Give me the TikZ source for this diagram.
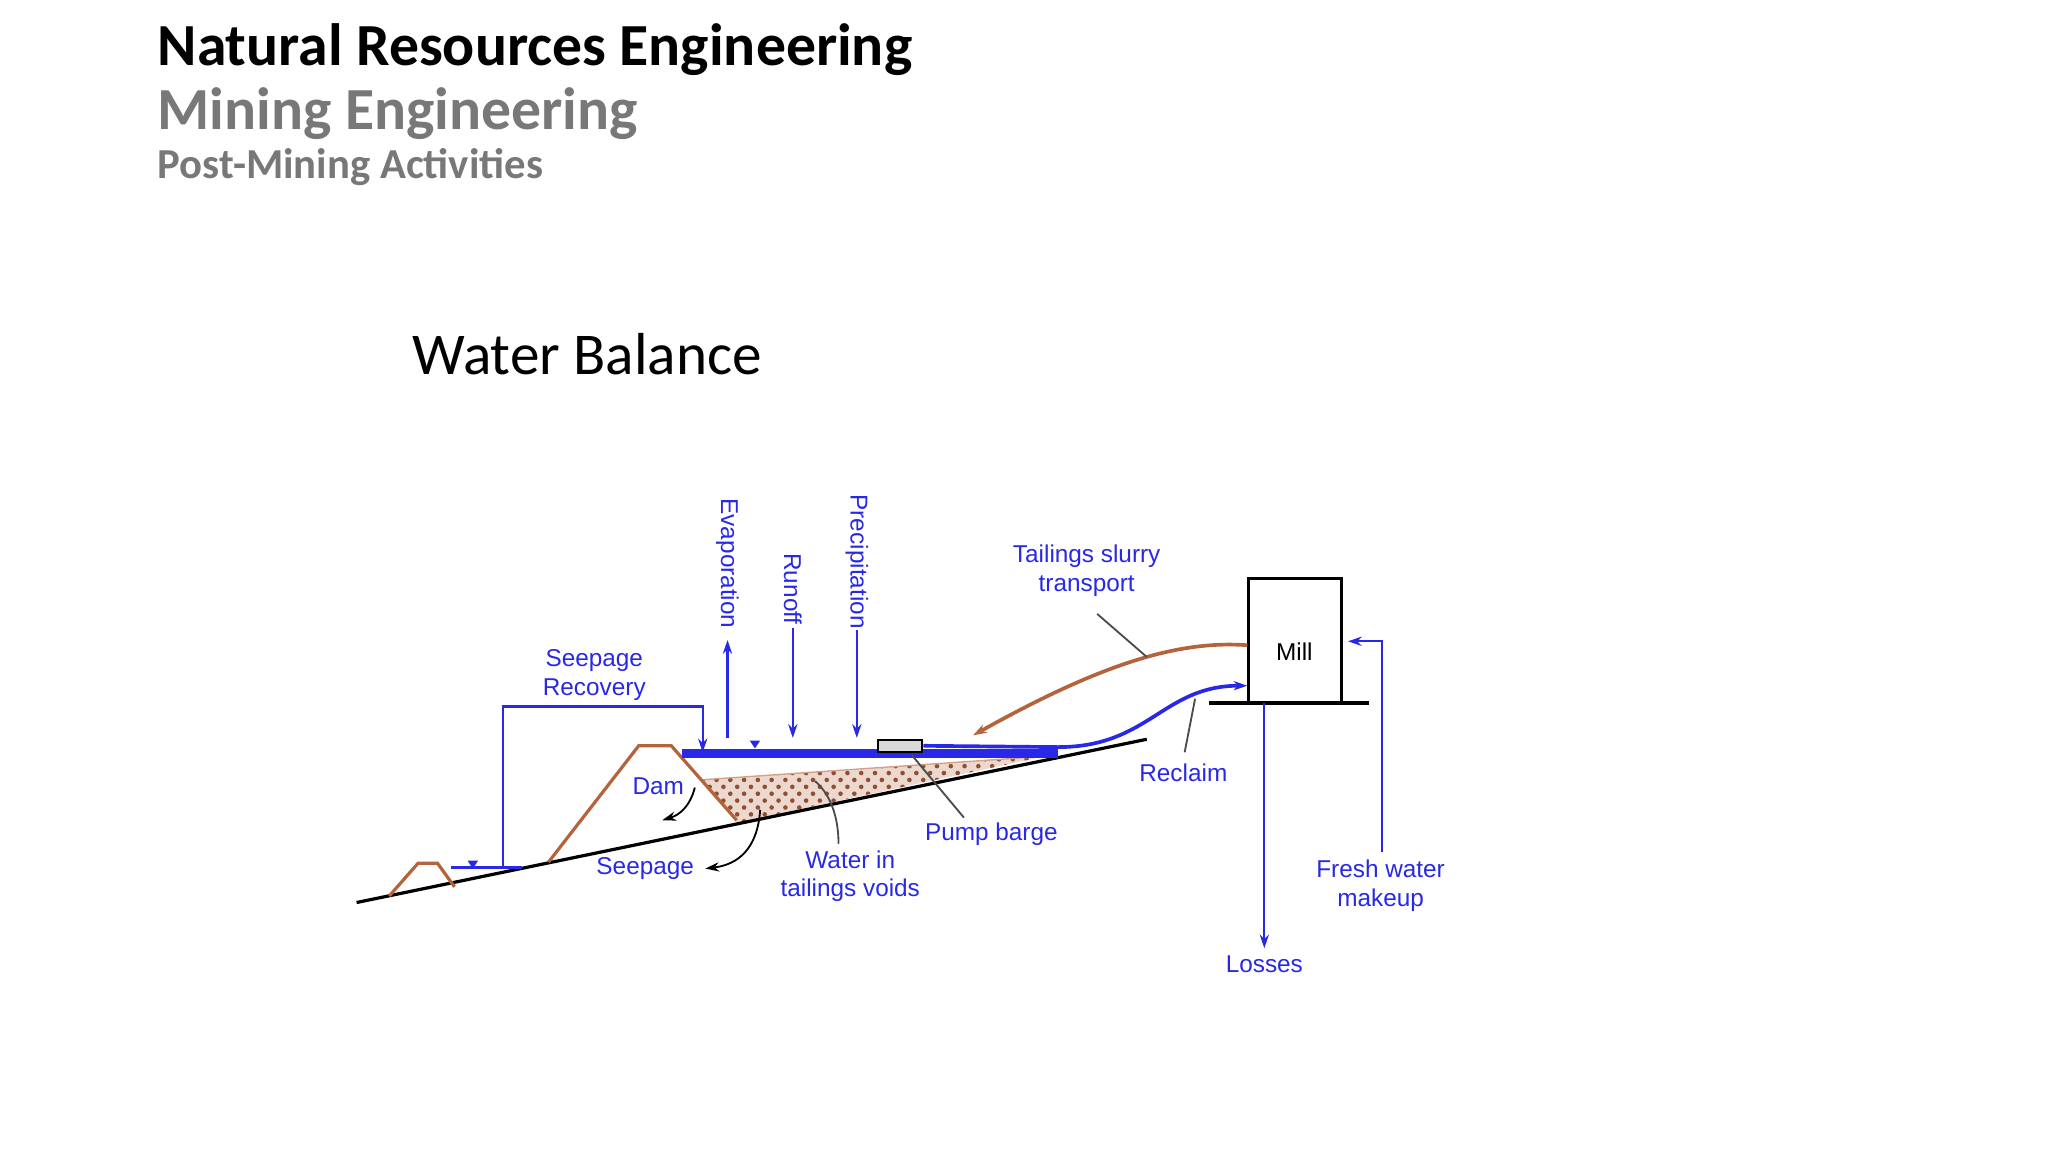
\documentclass[tikz,border=0pt]{standalone}
\usepackage{fontspec}
\setmainfont{Carlito}
\newfontfamily\arialf{Liberation Sans}
\usetikzlibrary{patterns,arrows.meta}
\definecolor{bl}{RGB}{40,40,230}
\definecolor{br}{RGB}{180,100,60}
\definecolor{gr}{RGB}{120,120,120}
\begin{document}
\begin{tikzpicture}[x=0.01cm,y=-0.01cm,
 lbl/.style={font=\arialf\fontsize{5.3pt}{6.2pt}\selectfont,text=bl,align=center,inner sep=0},
 flow/.style={bl,line width=0.5pt,-{Stealth[length=3pt,width=2pt]}},
 lead/.style={black!70,line width=0.4pt},
 dam/.style={br,line width=0.7pt}]
\useasboundingbox (0,0) rectangle (1568,882);
\node[anchor=base west,inner sep=0,font=\bfseries\fontsize{13pt}{15pt}\selectfont] (t1) at (120,50) {Natural Resources Engineering};
\node[anchor=base west,inner sep=0,font=\bfseries\fontsize{13pt}{15pt}\selectfont,text=gr] (t2) at (120,99) {Mining Engineering};
\node[anchor=base west,inner sep=0,font=\bfseries\fontsize{9.3pt}{11pt}\selectfont,text=gr] (t3) at (120,137) {Post-Mining Activities};
\node[anchor=base west,inner sep=0,font=\fontsize{12.9pt}{15pt}\selectfont] (t4) at (315,287) {Water Balance};
% tailings wedge
\fill[br!25] (538,597) -- (800,579) -- (564,630) -- cycle;
\fill[pattern=crosshatch dots,pattern color=br!80!black] (538,597) -- (800,579) -- (564,630) -- cycle;
\draw[br!60,line width=0.3pt] (538,597) -- (800,579);
% ground
\draw[line width=0.7pt] (273,691) -- (878,566);
% dams
\draw[dam] (298,686) -- (320,661) -- (335,661) -- (348,679);
\draw[dam] (420,660) -- (489,571) -- (514,571) -- (564,628);
% water levels
\draw[bl,line width=0.6pt] (345,664) -- (400,664);
\fill[bl] (358,659) -- (366,659) -- (362,665) -- cycle;
\draw[bl,line width=2pt] (522,577) -- (810,577);
\fill[bl] (574,567) -- (582,567) -- (578,573) -- cycle;
% seepage recovery
\coordinate (sr) at (385,664);
\coordinate (sr2) at (538,576);
\draw[flow] (sr) |- (538,541) -- (sr2);
\node[lbl] (srl) at (455,517) {Seepage\\Recovery};
% vertical flows
\coordinate (e1) at (557,565); \coordinate (e2) at (557,490);
\draw[flow] (e1) -- (e2);
\node[lbl,rotate=-90,anchor=west] (ev) at (557,381) {Evaporation};
\coordinate (r1) at (607,481); \coordinate (r2) at (607,565);
\draw[flow] (r1) -- (r2);
\node[lbl,rotate=-90,anchor=west] (ru) at (607,423) {Runoff};
\coordinate (p1) at (656,482); \coordinate (p2) at (656,565);
\draw[flow] (p1) -- (p2);
\node[lbl,rotate=-90,anchor=west] (pr) at (656,378) {Precipitation};
% pump barge
\node[draw=black,fill=gray!30,line width=0.5pt,minimum width=0.34cm,minimum height=0.09cm,inner sep=0] (pb) at (689,571) {};
% mill
\node[draw=black,line width=0.7pt,minimum width=0.71cm,minimum height=0.95cm,inner sep=0] (mill) at (991.5,490.5) {};
\node[font=\arialf\fontsize{5.3pt}{6pt}\selectfont,inner sep=0] (milll) at (991,499) {Mill};
\draw[line width=0.8pt] (926,538) -- (1048,538);
% reclaim
\coordinate (rc) at (955,525);
\draw[flow,line width=0.8pt] (pb.east) -- (810,572) .. controls (880,572) and (890,525) .. (rc);
% tailings slurry
\coordinate (ts) at (955,494);
\coordinate (tse) at (745,563);
\draw[br,line width=0.8pt,-{Stealth[length=3pt,width=2pt]}] (ts) .. controls (900,490) and (840,510) .. (tse);
\node[lbl] (tsl) at (832,437) {Tailings slurry\\transport};
\draw[lead] (840,470) -- (878,503);
% losses
\coordinate (lo1) at (968,538); \coordinate (lo2) at (968,726);
\draw[flow] (lo1) -- (lo2);
\node[lbl] (los) at (968,738) {Losses};
% fresh water
\coordinate (fw1) at (1058,652); \coordinate (fw2) at (1032,491);
\draw[flow] (fw1) |- (fw2);
\node[lbl] (fwl) at (1057,678) {Fresh water\\makeup};
% reclaim label
\node[lbl] (rcl) at (906,592) {Reclaim};
\draw[lead] (915,535) -- (907,576);
% dam
\node[lbl] (daml) at (504,602) {Dam};
\draw[black,line width=0.4pt,-{Stealth[length=3pt,width=2pt]}] (532,603) .. controls (528,618) and (520,624) .. (507,628);
% seepage
\node[lbl] (sel) at (494,665) {Seepage};
\draw[black,line width=0.4pt,-{Stealth[length=3pt,width=2pt]}] (582,620) .. controls (580,650) and (565,662) .. (540,665);
% water in voids
\node[lbl] (wv) at (651,671) {Water in\\tailings voids};
\draw[lead] (624,598) .. controls (638,610) and (642,630) .. (642,646);
% pump barge label
\node[lbl] (pbl) at (759,639) {Pump barge};
\draw[lead] (698,578) -- (738,626);
\end{tikzpicture}
\end{document}
